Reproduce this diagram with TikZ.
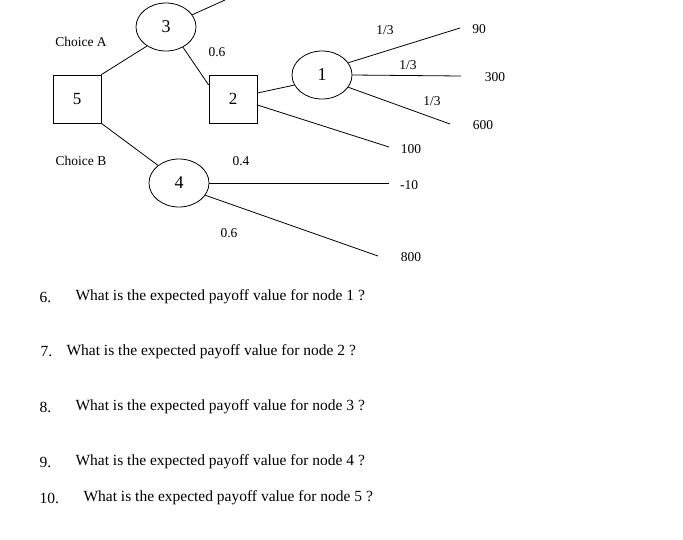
\documentclass[tikz,border=0pt]{standalone}
\usepackage{fontspec}
\setmainfont{Liberation Serif}
\usetikzlibrary{shapes.geometric}
\begin{document}
\begin{tikzpicture}[x=1pt,y=-1pt,
  dbox/.style={draw,line width=0.8pt,minimum width=48pt,minimum height=48pt,font=\fontsize{17}{18}\selectfont},
  chance/.style={draw,line width=0.8pt,ellipse,minimum width=60pt,minimum height=48pt,font=\fontsize{18}{19}\selectfont},
  lbl/.style={font=\fontsize{13.5}{14}\selectfont},
  q/.style={font=\fontsize{15.5}{17}\selectfont,anchor=west},
  edge/.style={line width=0.8pt}]
\useasboundingbox[fill=white] (0,0) rectangle (683,539);
\node[dbox] (n5) at (77,99) {5};
\node[dbox] (n2) at (233,99) {2};
\node[chance] (n3) at (166,27) {3};
\node[chance] (n1) at (322,75) {1};
\node[chance] (n4) at (179,183) {4};
\coordinate (t3) at (225,0);
\coordinate (e100) at (389,147);
\coordinate (e90) at (460,28);
\coordinate (e300) at (461,76);
\coordinate (e600) at (450,124);
\coordinate (em10) at (389,183);
\coordinate (e800) at (378,256);
\draw[edge] (n5.north east) -- (n3.225);
\draw[edge] (n3.310) -- (n2.150);
\draw[edge] (n3.25) -- (t3);
\draw[edge] (n2.east |- 0,93) -- (n1.200);
\draw[edge] (n2.east |- 0,105) -- (e100);
\draw[edge] (n1.25) -- (e90);
\draw[edge] (n1.east) -- (e300);
\draw[edge] (n1.335) -- (e600);
\draw[edge] (n5.south east) -- (n4.140);
\draw[edge] (n4.east) -- (em10);
\draw[edge] (n4.335) -- (e800);
\node[lbl] (ca) at (81,42) {Choice A};
\node[lbl] (cb) at (81,161) {Choice B};
\node[lbl] (p1) at (217,52) {0.6};
\node[lbl] (p2) at (241,161) {0.4};
\node[lbl] (p3) at (229,233) {0.6};
\node[lbl] (p4) at (385,30) {1/3};
\node[lbl] (p5) at (408,65) {1/3};
\node[lbl] (p6) at (432,101) {1/3};
\node[lbl] (v90) at (479,29) {90};
\node[lbl] (v300) at (495,77) {300};
\node[lbl] (v600) at (483,125) {600};
\node[lbl] (v100) at (411,149) {100};
\node[lbl] (vm10) at (409,185) {-10};
\node[lbl] (v800) at (411,257) {800};
\node[q] (q6n) at (36,297) {6.};
\node[q] (q6) at (72,297) {What is the expected payoff value for node 1 ?};
\node[q] (q7n) at (37,352) {7.};
\node[q] (q7) at (63,352) {What is the expected payoff value for node 2 ?};
\node[q] (q8n) at (36,407) {8.};
\node[q] (q8) at (72,407) {What is the expected payoff value for node 3 ?};
\node[q] (q9n) at (36,462) {9.};
\node[q] (q9) at (72,462) {What is the expected payoff value for node 4 ?};
\node[q] (q10n) at (36,498) {10.};
\node[q] (q10) at (80,498) {What is the expected payoff value for node 5 ?};
\end{tikzpicture}
\end{document}
